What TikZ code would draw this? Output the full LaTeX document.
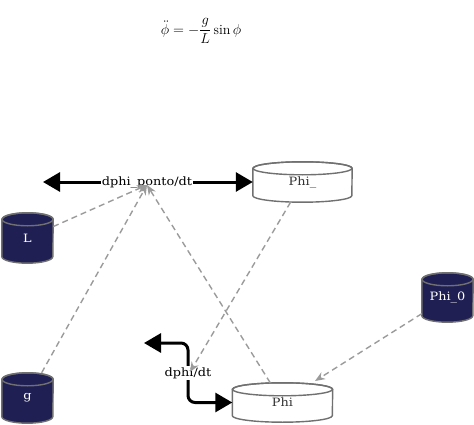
\documentclass[tikz,border=0pt]{standalone}
\usepackage{fontspec}
\usepackage{amsmath}
\usetikzlibrary{arrows.meta,calc,backgrounds}
\newfontfamily\lblfont[FakeStretch=1.12]{DejaVu Serif}
\definecolor{navy}{RGB}{31,31,84}
\definecolor{cylborder}{RGB}{112,112,112}
\definecolor{dashgray}{RGB}{155,155,155}
\definecolor{darktext}{RGB}{51,51,51}
\newcommand\mycyl[8]{%
  \node[cylnode, minimum width=#4pt, minimum height=#5pt, text=#7] (#1) at (#2,#3) {#6};
  \begin{scope}[on background layer]
    \path[cylline, fill=#8]
      ($(#1.north west)+(0,-6.5)$) -- ($(#1.south west)+(0,6.5)$)
      arc[start angle=180,end angle=360,x radius={#4*0.5pt},y radius=6.5pt]
      -- ($(#1.north east)+(0,-6.5)$)
      arc[start angle=0,end angle=180,x radius={#4*0.5pt},y radius=6.5pt] -- cycle;
    \draw[cylline] ($(#1.north)+(0,-6.5)$) ellipse[x radius={#4*0.5pt},y radius=6.5pt];
  \end{scope}}
\tikzset{
  cylnode/.style={inner sep=0pt, font=\lblfont\fontsize{11.5}{13}\selectfont},
  cylline/.style={draw=cylborder, line width=1.4pt},
  flow/.style={line width=3pt, black, {Triangle[length=17pt,width=19pt]}-{Triangle[length=17pt,width=19pt]}},
  flowlabel/.style={fill=white, inner sep=1pt, font=\lblfont\fontsize{11.5}{13}\selectfont},
  link/.style={dashgray, line width=1.4pt, dash pattern=on 6pt off 4pt, -{Stealth[length=10pt,width=8pt]}}
}
\begin{document}
\begin{tikzpicture}[x=1pt,y=1pt]
\useasboundingbox (0,0) rectangle (474,424);
\node[inner sep=0pt] (eq) at (201,393) {\fontsize{14}{16}\selectfont $\displaystyle \ddot{\phi} = -\frac{g}{L}\sin\phi$};
% stocks
\mycyl{Phiu}{302.5}{242}{99}{40}{Phi\_}{darktext}{white}
\mycyl{Phi}{282.5}{21.5}{100}{39}{Phi}{darktext}{white}
\mycyl{L}{27.5}{186}{51}{50}{L}{white}{navy}
\mycyl{g}{27.5}{26}{51}{50}{g}{white}{navy}
\mycyl{Phiz}{447.5}{126.5}{51}{49}{Phi\_0}{white}{navy}
% flow 1
\coordinate (f1l) at (43,242);
\coordinate (f1c) at (147,242);
\draw[flow] (f1l) -- (Phiu);
\node[flowlabel] (f1) at (f1c) {dphi\_ponto/dt};
% flow 2
\coordinate (f2l) at (144,81);
\coordinate (f2c) at (188,51);
\draw[flow, rounded corners=7pt] (f2l) -| (f2c) |- (Phi.west);
\node[flowlabel] (f2) at (f2c) {dphi/dt};
% links
\coordinate (t1) at (147,239);
\coordinate (t2) at (190,52);
\coordinate (t3) at (315,43);
\draw[link] (L) -- (t1);
\draw[link] (g) -- (t1);
\draw[link] (Phi) -- (t1);
\draw[link] (Phiu) -- (t2);
\draw[link] (Phiz) -- (t3);
\end{tikzpicture}
\end{document}
